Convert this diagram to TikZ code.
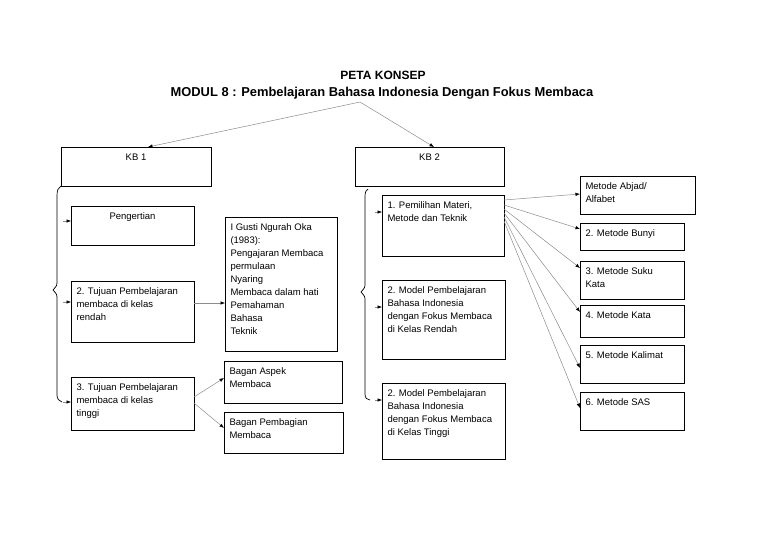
\documentclass[tikz,border=0pt]{standalone}
\usepackage{fontspec}
\setmainfont{Liberation Sans}
\usetikzlibrary{arrows.meta,calc}
\newcommand{\tbl}[3]{\parbox[t][\dimexpr#2pt-8pt\relax][t]{\dimexpr#1pt-11pt\relax}{\raggedright\rule{0pt}{9.5pt}#3}}
\newcommand{\tbc}[3]{\parbox[t][\dimexpr#2pt-8pt\relax][t]{\dimexpr#1pt-11pt\relax}{\centering\rule{0pt}{9.5pt}#3}}
\tikzset{
  bx/.style={draw=black, line width=0.9pt, inner xsep=5.5pt, inner ysep=4pt, outer sep=0pt, anchor=north west, font=\fontsize{9.5}{13}\selectfont},
  con/.style={draw=black!45, line width=0.5pt, -{Latex[length=4.5pt,width=3.5pt,color=black]}},
  brace/.style={draw=black, line width=0.7pt},
  ttl/.style={font=\bfseries\fontsize{12}{14}\selectfont, inner sep=0pt}
}
\begin{document}
\begin{tikzpicture}[x=1pt,y=-1pt]
\fill[white] (0,0) rectangle (768,543);
\useasboundingbox (0,0) rectangle (768,543);
% titles
\node[ttl] (t1) at (383,75) {PETA KONSEP};
\node[ttl, font=\bfseries\fontsize{12.9}{15}\selectfont] (t2) at (382,93) {MODUL 8 : Pembelajaran Bahasa Indonesia Dengan Fokus Membaca};
\coordinate (apex) at (360,102);
% left column
\node[bx] (kb1) at (61,147) {\tbc{150}{39}{KB 1}};
\node[bx] (pg) at (71,206) {\tbc{123}{39}{Pengertian}};
\node[bx] (tr) at (71,281) {\tbl{123}{61}{2. Tujuan Pembelajaran\\ membaca di kelas\\ rendah}};
\node[bx] (tt) at (71,377) {\tbl{123}{53}{3. Tujuan Pembelajaran\\ membaca di kelas\\ tinggi}};
\node[bx] (ig) at (225,217) {\tbl{112}{134}{I Gusti Ngurah Oka\\ (1983):\\ Pengajaran Membaca\\ permulaan\\ Nyaring\\ Membaca dalam hati\\ Pemahaman\\ Bahasa\\ Teknik}};
\node[bx] (ba) at (224,361) {\tbl{118}{42}{Bagan Aspek\\ Membaca}};
\node[bx] (bp) at (224,412) {\tbl{119}{41}{Bagan Pembagian\\ Membaca}};
% right column
\node[bx] (kb2) at (355,147) {\tbc{149}{39}{KB 2}};
\node[bx] (pm) at (382,195) {\tbl{122}{61}{1. Pemilihan Materi,\\ Metode dan Teknik}};
\node[bx] (mr) at (382,280) {\tbl{123}{79}{2. Model Pembelajaran\\ Bahasa Indonesia\\ dengan Fokus Membaca\\ di Kelas Rendah}};
\node[bx] (mt) at (382,383) {\tbl{123}{76}{2. Model Pembelajaran\\ Bahasa Indonesia\\ dengan Fokus Membaca\\ di Kelas Tinggi}};
\node[bx] (m1) at (580,176) {\tbl{115}{38}{Metode Abjad/\\ Alfabet}};
\node[bx] (m2) at (580,223) {\tbl{104}{27}{2. Metode Bunyi}};
\node[bx] (m3) at (580,261) {\tbl{104}{38}{3. Metode Suku\\ Kata}};
\node[bx] (m4) at (580,305) {\tbl{104}{32}{4. Metode Kata}};
\node[bx] (m5) at (580,345) {\tbl{104}{38}{5. Metode Kalimat}};
\node[bx] (m6) at (580,392) {\tbl{104}{38}{6. Metode SAS}};
% title to KB
\draw[con] (apex) -- ($(kb1.north west)+(87,0)$);
\draw[con] (apex) -- ($(kb2.north west)+(79,0)$);
% left brace
\draw[brace] (kb1.south west) .. controls (58,188) and (57,190) .. (57,196) -- (57,283)
  .. controls (57,287) and (54,288) .. (53,290) .. controls (54,292) and (57,293) .. (57,297)
  -- (57,395) .. controls (57,399) and (59,401) .. (62,402);
\draw[con] ($(pg.north west)+(-8,15)$) -- ($(pg.north west)+(0,15)$);
\draw[con] ($(tr.north west)+(-8,21)$) -- ($(tr.north west)+(0,21)$);
\draw[con] ($(tt.north west)+(-8,25)$) -- ($(tt.north west)+(0,25)$);
% right brace
\coordinate (rb) at (368,189);
\draw[brace] (rb) .. controls (366,190) and (365,192) .. (365,197) -- (365,285)
  .. controls (365,289) and (362,290) .. (361,292) .. controls (362,294) and (365,295) .. (365,299)
  -- (365,394) .. controls (365,398) and (367,400) .. (370,400);
\draw[con] ($(pm.north west)+(-7,17)$) -- ($(pm.north west)+(0,17)$);
\draw[con] ($(mr.north west)+(-7,27)$) -- ($(mr.north west)+(0,27)$);
\draw[con] ($(mt.north west)+(-7,17)$) -- ($(mt.north west)+(0,17)$);
% left side links
\draw[con] ($(tr.north east)+(0,22)$) -- ($(ig.north west)+(0,86)$);
\draw[con] ($(tt.north east)+(0,20)$) -- ($(ba.north west)+(0,17)$);
\draw[con] ($(tt.north east)+(0,26)$) -- ($(bp.north west)+(0,16)$);
% fan to methods
\draw[con] ($(pm.north east)+(0,5)$) -- ($(m1.north west)+(0,18)$);
\draw[con] ($(pm.north east)+(0,10)$) -- ($(m2.north west)+(0,6)$);
\draw[con] ($(pm.north east)+(0,14)$) -- ($(m3.north west)+(0,7)$);
\draw[con] ($(pm.north east)+(0,18)$) -- ($(m4.north west)+(0,7)$);
\draw[con] ($(pm.north east)+(0,22)$) -- ($(m5.north west)+(0,23)$);
\draw[con] ($(pm.north east)+(0,26)$) -- ($(m6.north west)+(0,16)$);
\end{tikzpicture}
\end{document}
